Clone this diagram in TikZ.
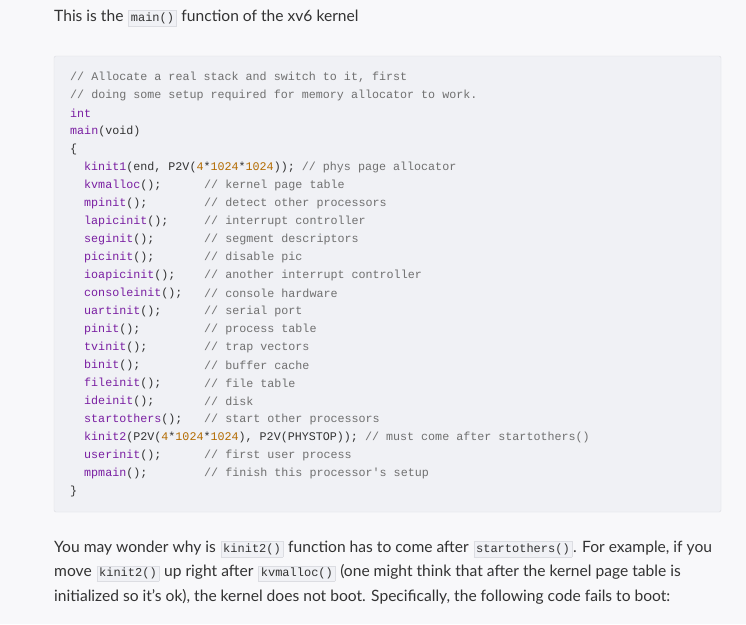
\documentclass[tikz,border=0pt]{standalone}
\usepackage{fontspec}
\setmainfont{Lato}
\setmonofont{Liberation Mono}
\definecolor{pagebg}{HTML}{F8F8FA}
\definecolor{codebg}{HTML}{F0F1F5}
\definecolor{codeborder}{HTML}{DCDDE2}
\definecolor{txt}{HTML}{333333}
\definecolor{fn}{HTML}{7A1FA2}
\definecolor{num}{HTML}{B36B00}
\definecolor{cmt}{HTML}{707070}
\newcommand{\fnc}[1]{\textcolor{fn}{#1}}
\newcommand{\nm}[1]{\textcolor{num}{#1}}
\newcommand{\ic}[1]{\hspace{1pt}{\setlength\fboxsep{2pt}\fcolorbox{codeborder}{codebg}{\fontsize{12}{12}\ttfamily\vphantom{()}#1}}\hspace{1pt}}
\tikzset{
  codeline/.style={anchor=west,inner sep=0pt,font=\fontsize{11.7}{12}\ttfamily,text=txt},
  cmtline/.style={codeline,text=cmt},
  para/.style={anchor=west,inner sep=0pt,font=\fontsize{15.6}{18}\selectfont,text=txt},
}
\newcommand{\cl}[3]{\node[codeline] (c#1) at (#2pt,{-(77+18*#1)*1pt}) {#3};}
\newcommand{\cc}[2]{\node[cmtline] (m#1) at (204pt,{-(77+18*#1)*1pt}) {#2};}
\begin{document}
\begin{tikzpicture}
\fill[pagebg] (0,0) rectangle (746pt,-624pt);
\useasboundingbox (0,0) rectangle (746pt,-624pt);
\node[para] (t0) at (54pt,-18pt) {This is the \ic{main()} function of the xv6 kernel};
\draw[codeborder,fill=codebg,rounded corners=2pt] (54pt,-56pt) rectangle (721pt,-512pt);
\node[cmtline] (c0) at (70pt,-77pt) {// Allocate a real stack and switch to it, first};
\node[cmtline] (c1) at (70pt,-95pt) {// doing some setup required for memory allocator to work.};
\cl{2}{70}{\fnc{int}}
\cl{3}{70}{\fnc{main}(void)}
\cl{4}{70}{\{}
\cl{5}{84}{\fnc{kinit1}(end, P2V(\nm{4}*\nm{1024}*\nm{1024})); \textcolor{cmt}{// phys page allocator}}
\cl{6}{84}{\fnc{kvmalloc}();}\cc{6}{// kernel page table}
\cl{7}{84}{\fnc{mpinit}();}\cc{7}{// detect other processors}
\cl{8}{84}{\fnc{lapicinit}();}\cc{8}{// interrupt controller}
\cl{9}{84}{\fnc{seginit}();}\cc{9}{// segment descriptors}
\cl{10}{84}{\fnc{picinit}();}\cc{10}{// disable pic}
\cl{11}{84}{\fnc{ioapicinit}();}\cc{11}{// another interrupt controller}
\cl{12}{84}{\fnc{consoleinit}();}\cc{12}{// console hardware}
\cl{13}{84}{\fnc{uartinit}();}\cc{13}{// serial port}
\cl{14}{84}{\fnc{pinit}();}\cc{14}{// process table}
\cl{15}{84}{\fnc{tvinit}();}\cc{15}{// trap vectors}
\cl{16}{84}{\fnc{binit}();}\cc{16}{// buffer cache}
\cl{17}{84}{\fnc{fileinit}();}\cc{17}{// file table}
\cl{18}{84}{\fnc{ideinit}();}\cc{18}{// disk}
\cl{19}{84}{\fnc{startothers}();}\cc{19}{// start other processors}
\cl{20}{84}{\fnc{kinit2}(P2V(\nm{4}*\nm{1024}*\nm{1024}), P2V(PHYSTOP)); \textcolor{cmt}{// must come after startothers()}}
\cl{21}{84}{\fnc{userinit}();}\cc{21}{// first user process}
\cl{22}{84}{\fnc{mpmain}();}\cc{22}{// finish this processor's setup}
\cl{23}{70}{\}}
\node[para] (p1) at (54pt,-549pt) {You may wonder why is \ic{kinit2()} function has to come after \ic{startothers()}. For example, if you};
\node[para] (p2) at (54pt,-573pt) {move \ic{kinit2()} up right after \ic{kvmalloc()} (one might think that after the kernel page table is};
\node[para] (p3) at (54pt,-597pt) {initialized so it's ok), the kernel does not boot. Specifically, the following code fails to boot:};
\end{tikzpicture}
\end{document}
